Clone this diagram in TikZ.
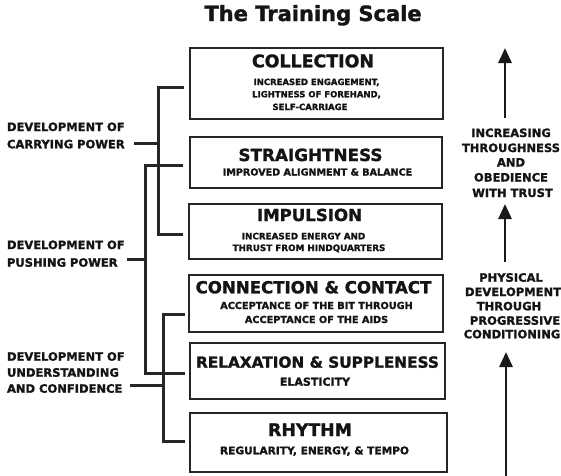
\documentclass[tikz,border=0pt]{standalone}
\usepackage{fontspec}
\setmainfont{DejaVu Sans}[BoldFeatures={FakeBold=1.5}]
\usetikzlibrary{arrows.meta}
\newcommand\fsz[1]{\fontsize{#1}{#1}\selectfont\bfseries}
\begin{document}
\begin{tikzpicture}[x=1pt,y=-1pt,
  box/.style={draw=black!85,line width=2pt,inner sep=0pt,outer sep=0pt,fill=white},
  txt/.style={inner sep=0pt,outer sep=0pt,anchor=base,text=black!92},
  side/.style={txt,anchor=base west,font=\fsz{11.5}},
  rside/.style={txt,font=\fsz{11.5}},
  br/.style={line width=3pt,black!85},
  arr/.style={line width=2.8pt,black!90,-{Triangle[length=15pt,width=13pt]}}]
\useasboundingbox[fill=white] (0,0) rectangle (561,475);

% title
\node[txt,font=\fsz{21}] (title) at (313,21) {The Training Scale};

% boxes
\node[box,minimum width=253pt,minimum height=71pt] (coll) at (316.5,83.5) {};
\node[box,minimum width=252pt,minimum height=51pt] (str)  at (316,162.5) {};
\node[box,minimum width=253pt,minimum height=55pt] (imp)  at (315.5,231.5) {};
\node[box,minimum width=254pt,minimum height=57pt] (con)  at (316,303.5) {};
\node[box,minimum width=255pt,minimum height=56pt] (rel)  at (317.5,371) {};
\node[box,minimum width=257pt,minimum height=59pt] (rhy)  at (318.5,442.5) {};

% box texts
\node[txt,font=\fsz{17.4}] (collh) at (313,67.3) {COLLECTION};
\node[txt,font=\fsz{8.5}] (colls1) at (316.5,85) {INCREASED ENGAGEMENT,};
\node[txt,font=\fsz{8.5}] (colls2) at (316.5,97.3) {LIGHTNESS OF FOREHAND,};
\node[txt,font=\fsz{8.5}] (colls3) at (310,110) {SELF-CARRIAGE};

\node[txt,font=\fsz{16.8}] (strh) at (310.5,161) {STRAIGHTNESS};
\node[txt,font=\fsz{9.6}] (strs) at (317.5,175.5) {IMPROVED ALIGNMENT \& BALANCE};

\node[txt,font=\fsz{16.6}] (imph) at (309.5,221) {IMPULSION};
\node[txt,font=\fsz{8.8}] (imps1) at (303.5,239.3) {INCREASED ENERGY AND};
\node[txt,font=\fsz{8.8}] (imps2) at (309,251) {THRUST FROM HINDQUARTERS};

\node[txt,font=\fsz{16.6}] (conh) at (313.5,293.3) {CONNECTION \& CONTACT};
\node[txt,font=\fsz{9.7}] (cons1) at (316.5,309) {ACCEPTANCE OF THE BIT THROUGH};
\node[txt,font=\fsz{9.7}] (cons2) at (316.5,323) {ACCEPTANCE OF THE AIDS};

\node[txt,font=\fsz{15.3}] (relh) at (317.5,367.7) {RELAXATION \& SUPPLENESS};
\node[txt,font=\fsz{11}] (rels) at (315,385.7) {ELASTICITY};

\node[txt,font=\fsz{17.3}] (rhyh) at (310,436) {RHYTHM};
\node[txt,font=\fsz{10.6}] (rhys) at (314.5,454.3) {REGULARITY, ENERGY, \& TEMPO};

% left labels
\node[side] (la1) at (7,131) {DEVELOPMENT OF};
\node[side] (la2) at (7,148.3) {CARRYING POWER};
\node[side] (lb1) at (7,249) {DEVELOPMENT OF};
\node[side] (lb2) at (7,266.7) {PUSHING POWER};
\node[side] (lc1) at (7,360.7) {DEVELOPMENT OF};
\node[side] (lc2) at (7,376.7) {UNDERSTANDING};
\node[side] (lc3) at (7,392.7) {AND CONFIDENCE};

% right labels
\node[rside] (ra1) at (511,137) {INCREASING};
\node[rside] (ra2) at (511,152) {THROUGHNESS};
\node[rside] (ra3) at (511,166.5) {AND};
\node[rside] (ra4) at (511,181.5) {OBEDIENCE};
\node[rside] (ra5) at (512.5,197) {WITH TRUST};
\node[rside] (rb1) at (511,281.7) {PHYSICAL};
\node[rside] (rb2) at (513,296) {DEVELOPMENT};
\node[rside] (rb3) at (509,310.3) {THROUGH};
\node[rside] (rb4) at (515,324.7) {PROGRESSIVE};
\node[rside] (rb5) at (512,338.3) {CONDITIONING};

% bracket coordinates
\coordinate (b1t) at (158,87);
\coordinate (b1b) at (158,234);
\coordinate (b1m) at (158,143);
\coordinate (b2t) at (145,165);
\coordinate (b2b) at (145,373);
\coordinate (b2m) at (145,259);
\coordinate (b3t) at (163,314);
\coordinate (b3b) at (163,441);
\coordinate (b3m) at (163,385);

% brackets
\draw[br] ([xshift=-6pt]coll.west |- b1t) -- (b1t) -- (b1b) -- ([xshift=-6pt]imp.west |- b1b);
\draw[br] ([xshift=9pt]la2.east |- b1m) -- (b1m);
\draw[br] ([xshift=-7pt]str.west |- b2t) -- (b2t) -- (b2b) -- ([xshift=-5pt]rel.west |- b2b);
\draw[br] ([xshift=9pt]lb2.east |- b2m) -- (b2m);
\draw[br] ([xshift=-4pt]con.west |- b3t) -- (b3t) -- (b3b) -- ([xshift=-5pt]rhy.west |- b3b);
\draw[br] ([xshift=8pt]lc3.east |- b3m) -- (b3m);

% arrows
\coordinate (a1s) at (505,118);
\coordinate (a1e) at (505,48);
\coordinate (a2s) at (505,262);
\coordinate (a2e) at (505,204);
\coordinate (a3s) at (506,476);
\coordinate (a3e) at (506,352);
\draw[arr] (a1s) -- (a1e);
\draw[arr] (a2s) -- (a2e);
\draw[arr] (a3s) -- (a3e);
\end{tikzpicture}
\end{document}
